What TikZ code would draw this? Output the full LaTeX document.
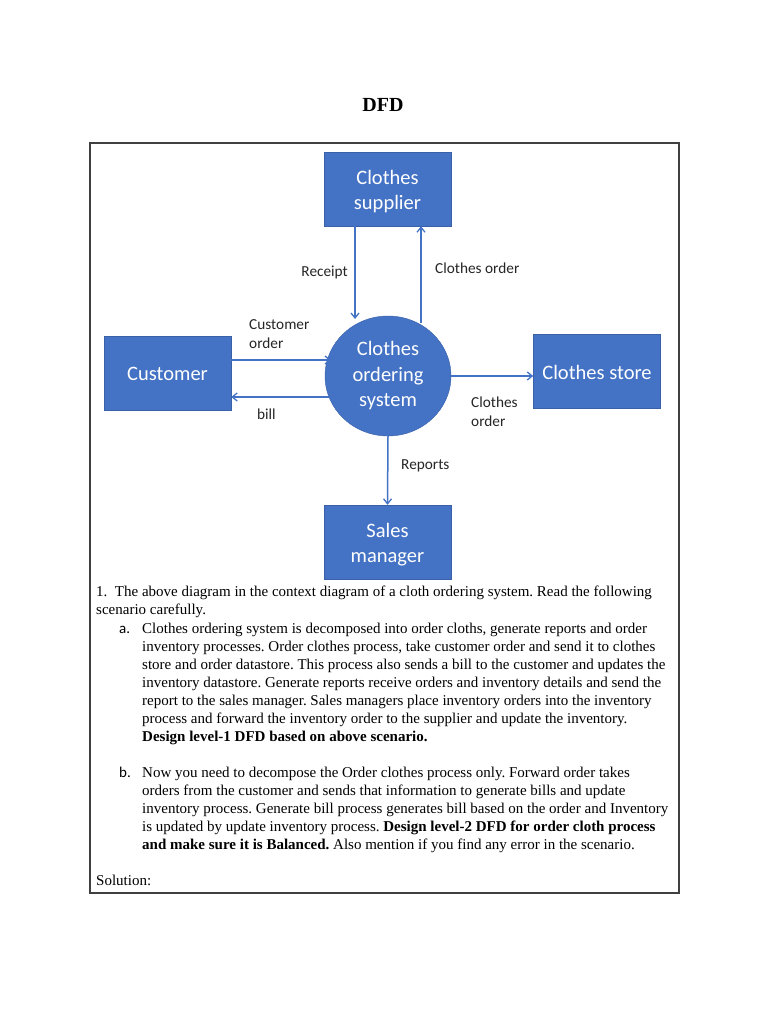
\documentclass[tikz,border=0pt]{standalone}
\usepackage{fontspec}
\setmainfont{Liberation Serif}
\newfontfamily\calfont{Carlito}
\usetikzlibrary{arrows.meta,shapes.geometric}
\definecolor{obl}{HTML}{4472C4}
\begin{document}
\frenchspacing
\begin{tikzpicture}[x=1pt,y=-1pt,
  ent/.style={fill=obl,draw=obl!85!black,line width=0.4pt,minimum width=127pt,minimum height=74pt,inner sep=0pt},
  enttext/.style={text=white,inner sep=0pt,align=center,font=\calfont\fontsize{20.5}{25.5}\selectfont},
  proc/.style={ellipse,fill=obl,draw=obl!85!black,line width=0.4pt,text=white,minimum width=126pt,minimum height=120pt,inner sep=0pt,align=center,font=\calfont\fontsize{20.5}{25.5}\selectfont},
  flow/.style={draw=obl,line width=1.5pt,-{Straight Barb[length=5pt,width=8pt,line width=1.3pt]}},
  lbl/.style={font=\calfont\fontsize{15.3}{19}\selectfont,align=left,inner sep=0pt,text=black!85},
  body/.style={font=\fontsize{15}{18}\selectfont,align=left,inner sep=0pt,anchor=base west}
]
\useasboundingbox (0,0) rectangle (768,1024);
\fill[white] (0,0) rectangle (768,1024);
\node[font=\bfseries\fontsize{20}{24}\selectfont] (title) at (383,105) {DFD};
\draw[line width=1.3pt,black!75] (90,143) rectangle (679,893);

\node[ent] (sup) at (387.5,189) {};
\node[enttext] (supt) at (387.5,191.5) {Clothes\\supplier};
\node[proc] (sys) at (388,376) {Clothes\\ordering\\system};
\node[ent] (cust) at (167.5,373) {};
\node[enttext] (custt) at (167.5,374) {Customer};
\node[ent] (store) at (597,371) {};
\node[enttext] (storet) at (597,372) {Clothes store};
\node[ent] (sales) at (387.5,542) {};
\node[enttext] (salest) at (387.5,544.5) {Sales\\manager};

\draw[flow] (sup.south -| 355,0) -- (355,319);
\draw[flow] (421,323) -- (sup.south -| 421,0);
\draw[flow] (cust.east |- 0,360) -- (331,360);
\draw[flow] (329,397) -- (cust.east |- 0,397);
\draw[flow] (sys.east) -- (store.west |- sys.east);
\draw[flow] (sys.south) -- (sales.north);

\node[lbl,anchor=base east] (lrec) at (348,276) {Receipt};
\node[lbl,anchor=base west] (lco) at (435,273) {Clothes order};
\node[lbl,anchor=base west] (lcuo) at (249,348) {Customer\\order};
\node[lbl,anchor=base west] (lbill) at (257,419) {bill};
\node[lbl,anchor=base west] (lco2) at (471,426) {Clothes\\order};
\node[lbl,anchor=base west] (lrep) at (401,469) {Reports};

\node[body] (p1) at (96,614) {1.\ \ The above diagram in the context diagram of a cloth ordering system. Read the following\\scenario carefully.};
\node[body,font=\calfont\fontsize{15}{18}\selectfont] (la) at (119,633) {a.};
\node[body] (pa) at (142,741) {Clothes ordering system is decomposed into order cloths, generate reports and order\\
inventory processes. Order clothes process, take customer order and send it to clothes\\
store and order datastore. This process also sends a bill to the customer and updates the\\
inventory datastore. Generate reports receive orders and inventory details and send the\\
report to the sales manager. Sales managers place inventory orders into the inventory\\
process and forward the inventory order to the supplier and update the inventory.\\
\textbf{Design level-1 DFD based on above scenario.}};
\node[body,font=\calfont\fontsize{15}{18}\selectfont] (lb) at (119,777) {b.};
\node[body] (pb) at (142,849) {Now you need to decompose the Order clothes process only. Forward order takes\\
orders from the customer and sends that information to generate bills and update\\
inventory process. Generate bill process generates bill based on the order and Inventory\\
is updated by update inventory process. \textbf{Design level-2 DFD for order cloth process}\\
\textbf{and make sure it is Balanced.} Also mention if you find any error in the scenario.};
\node[body] (sol) at (96,885) {Solution:};
\end{tikzpicture}
\end{document}
